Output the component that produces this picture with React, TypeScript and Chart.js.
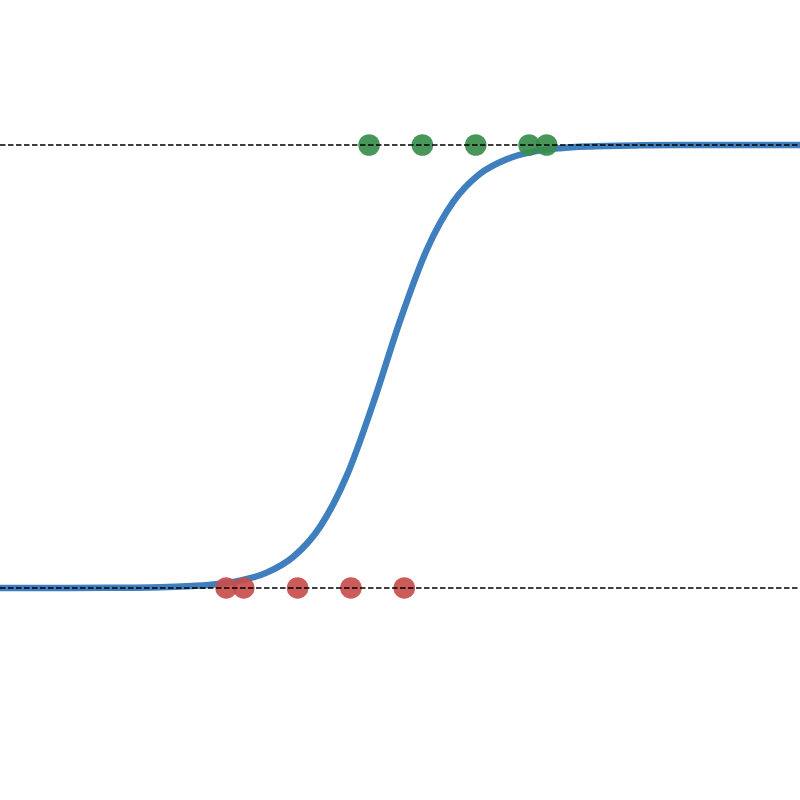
import { useEffect, useRef } from "react";
import { Chart, registerables } from "chart.js";

Chart.register(...registerables);

// Observed outcomes (x position, class label)
const negX = [4.24, 4.57, 5.58, 6.58, 7.58];
const posX = [6.92, 7.92, 8.92, 9.92, 10.25];

// Fitted probability curve
const curveX = [0, 1, 2, 3, 3.5, 4, 4.5, 5, 5.5, 6, 6.5, 7, 7.5, 8, 8.5, 9, 9.5, 10, 10.5, 11, 12, 13, 14, 15];
const curveY = [
  0.00002, 0.00009, 0.0004, 0.0018, 0.0038, 0.0079, 0.0166, 0.0346, 0.0704, 0.138, 0.253, 0.418,
  0.603, 0.763, 0.872, 0.935, 0.968, 0.985, 0.9928, 0.9966, 0.9992, 0.9998, 0.99996, 1.0,
];

const levels = [0, 1];
const xRange = [0, 15];
const yRange = [-0.4786, 1.3273];

export default function App(): JSX.Element {
  const canvasRef = useRef<HTMLCanvasElement | null>(null);

  useEffect(() => {
    const canvas = canvasRef.current;
    if (!canvas) {
      return;
    }

    const chart = new Chart(canvas, {
      type: "scatter",
      data: {
        datasets: [
          ...levels.map((level) => ({
            label: `y = ${level}`,
            data: xRange.map((x) => ({ x, y: level })),
            showLine: true,
            borderColor: "#000000",
            borderWidth: 1.4,
            borderDash: [5.5, 2.5],
            pointRadius: 0,
            order: 0,
          })),
          {
            label: "0",
            data: negX.map((x) => ({ x, y: 0 })),
            backgroundColor: "rgba(199,78,76,0.92)",
            borderWidth: 0,
            pointRadius: 10.8,
            order: 1,
          },
          {
            label: "1",
            data: posX.map((x) => ({ x, y: 1 })),
            backgroundColor: "rgba(58,141,76,0.92)",
            borderWidth: 0,
            pointRadius: 10.8,
            order: 1,
          },
          {
            label: "p(x)",
            data: curveX.map((x, i) => ({ x, y: curveY[i] })),
            showLine: true,
            borderColor: "#3f7fbe",
            borderWidth: 6.5,
            pointRadius: 0,
            cubicInterpolationMode: "monotone" as const,
            order: 2,
          },
        ],
      },
      options: {
        animation: false,
        responsive: true,
        maintainAspectRatio: false,
        layout: { padding: 0, autoPadding: false },
        plugins: {
          legend: { display: false },
          tooltip: { enabled: false },
        },
        scales: {
          x: { type: "linear", min: xRange[0], max: xRange[1], display: false },
          y: { type: "linear", min: yRange[0], max: yRange[1], display: false },
        },
      },
    });

    return () => {
      chart.destroy();
    };
  }, []);

  return (
    <div style={{ position: "fixed", left: 0, top: 0, width: 800, height: 800, background: "#ffffff" }}>
      <canvas ref={canvasRef} />
    </div>
  );
}
